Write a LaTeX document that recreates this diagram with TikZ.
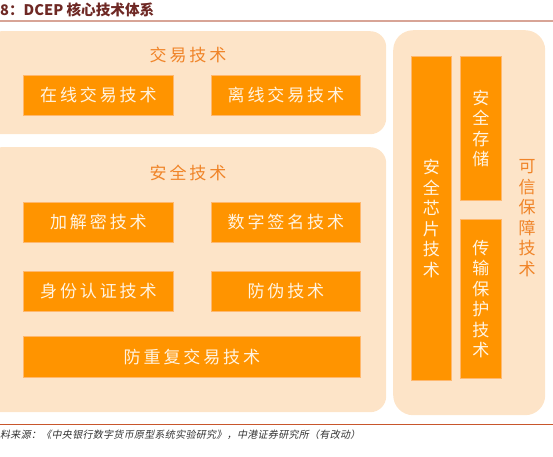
\documentclass[tikz,border=0pt]{standalone}
\usepackage{fontspec}
\setmainfont{Noto Sans CJK SC}
\newfontfamily\cjk[LetterSpace=17]{Noto Sans CJK SC}
\newfontfamily\cjksrc[FakeSlant=0.2,LetterSpace=3]{Noto Sans CJK SC}
\usetikzlibrary{positioning}

\definecolor{peach}{RGB}{253,228,200}
\definecolor{techorange}{RGB}{255,148,0}
\definecolor{techline}{RGB}{255,184,110}
\definecolor{techtext}{RGB}{255,244,226}
\definecolor{headtext}{RGB}{240,132,40}
\definecolor{titletext}{RGB}{110,40,36}
\definecolor{titleline}{RGB}{216,164,150}
\definecolor{srcline}{RGB}{200,86,44}

\begin{document}
\begin{tikzpicture}[x=1pt,y=-1pt,
    panel/.style={fill=peach,rounded corners=16pt,anchor=north west,inner sep=0pt},
    tech/.style={fill=techorange,draw=techline,line width=0.8pt,anchor=north west,
        inner sep=0pt,text=techtext,font=\cjk\fontsize{17}{20.5}\selectfont},
    techv/.style={tech,align=center},
    heading/.style={text=headtext,font=\cjk\fontsize{17}{20.5}\selectfont}]

    \useasboundingbox (0,0) rectangle (553,456);

    % title
    \node[anchor=west,inner sep=0pt,text=titletext,font=\bfseries\fontsize{14.6}{16}\selectfont] (title) at (0,10) {8：DCEP 核心技术体系};
    \draw[titleline,line width=1.6pt] (0,21) -- (553,21);

    %%%%%%%%%%%%%%%%%%%%%%%%%%%%%%%%%%%%%%%%%%%%%%%%%%%%%%%%%

    % trading technology
    \node[panel,minimum width=401pt,minimum height=103pt] (trade) at (-15,31) {};
    \node[heading] (tradehead) at (188,55) {交易技术};
    \node[tech,minimum width=150pt,minimum height=40pt] (online) at (23,75) {在线交易技术};
    \node[tech,minimum width=149pt,minimum height=40pt] (offline) at (211,75) {离线交易技术};

    %%%%%%%%%%%%%%%%%%%%%%%%%%%%%%%%%%%%%%%%%%%%%%%%%%%%%%%%%

    % security technology
    \node[panel,minimum width=401pt,minimum height=265pt] (secure) at (-15,147) {};
    \node[heading] (securehead) at (188,173) {安全技术};
    \node[tech,minimum width=150pt,minimum height=40pt] (crypt) at (23,202) {加解密技术};
    \node[tech,minimum width=149pt,minimum height=40pt] (sign) at (211,202) {数字签名技术};
    \node[tech,minimum width=150pt,minimum height=40pt] (ident) at (23,271) {身份认证技术};
    \node[tech,minimum width=149pt,minimum height=40pt] (fake) at (211,271) {防伪技术};
    \node[tech,minimum width=337pt,minimum height=41pt] (replay) at (23,336) {防重复交易技术};

    %%%%%%%%%%%%%%%%%%%%%%%%%%%%%%%%%%%%%%%%%%%%%%%%%%%%%%%%%

    % trusted guarantee technology
    \node[panel,rounded corners=20pt,minimum width=152pt,minimum height=385pt] (trust) at (393,30) {};
    \node[heading,align=center] (trusthead) at (527,218) {可\\信\\保\\障\\技\\术};
    \node[techv,minimum width=40pt,minimum height=324pt] (chip) at (411,56) {安\\全\\芯\\片\\技\\术};
    \node[techv,minimum width=41pt,minimum height=144pt] (store) at (460,56) {安\\全\\存\\储};
    \node[techv,minimum width=41pt,minimum height=159pt] (transfer) at (460,219) {传\\输\\保\\护\\技\\术};

    %%%%%%%%%%%%%%%%%%%%%%%%%%%%%%%%%%%%%%%%%%%%%%%%%%%%%%%%%

    % source
    \draw[srcline,line width=1pt] (0,424) -- (553,424);
    \node[anchor=west,inner sep=0pt,text=black!80,font=\cjksrc\fontsize{10}{12}\selectfont] (source) at (0,435) {料来源：《中央银行数字货币原型系统实验研究》，中港证券研究所（有改动）};

\end{tikzpicture}
\end{document}
